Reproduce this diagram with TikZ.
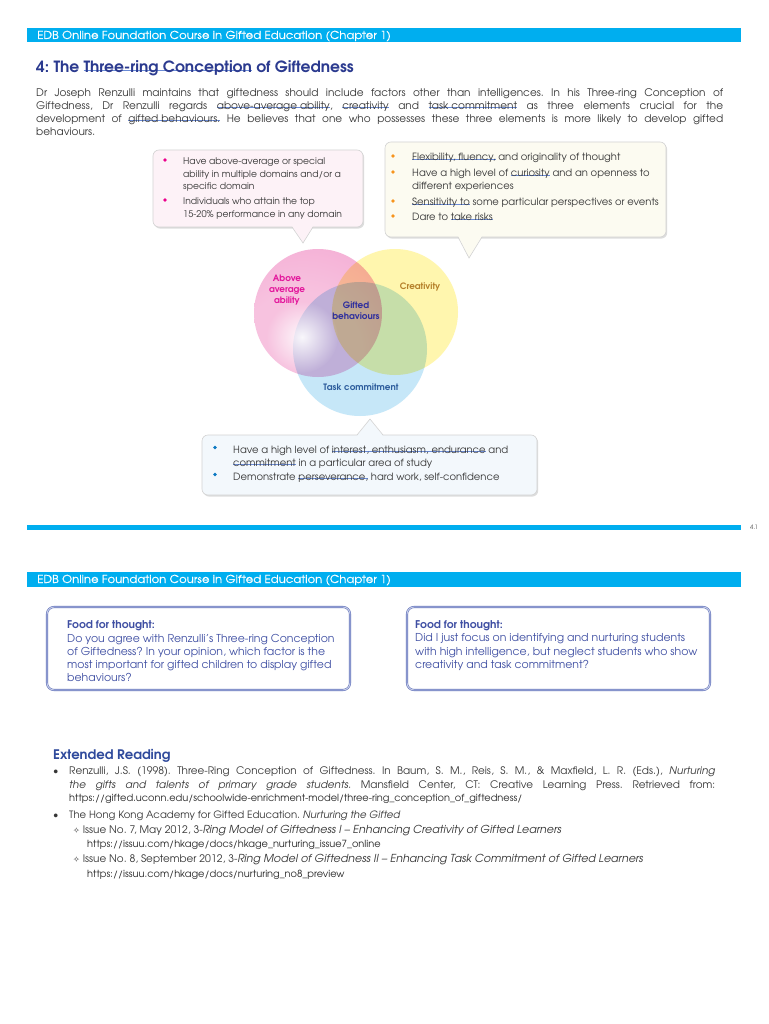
\documentclass[tikz,border=0pt]{standalone}
\usepackage{fontspec}
\setmainfont{texgyreadventor}[Extension=.otf, UprightFont=*-regular, BoldFont=*-bold, ItalicFont=*-italic, BoldItalicFont=*-bolditalic]
\newfontfamily\hdrfont{texgyreadventor}[Extension=.otf, UprightFont=*-regular, BoldFont=*-bold, ItalicFont=*-italic, FakeStretch=1.06, FakeBold=0.4]
\newfontfamily\symfont{DejaVu Sans}
\usetikzlibrary{shadows,fadings}
\tikzfading[name=glowfade, inner color=transparent!0, outer color=transparent!100]
\frenchspacing
\definecolor{hdrblue}{HTML}{00AEEF}
\definecolor{titleblue}{HTML}{2B3A8F}
\definecolor{bodygray}{HTML}{363636}
\definecolor{pinkfill}{HTML}{FDF2F7}
\definecolor{creamfill}{HTML}{FCFBF1}
\definecolor{bluefill}{HTML}{F3F8FC}
\definecolor{boxedge}{HTML}{D3D3D3}
\definecolor{pinkbullet}{HTML}{EC008C}
\definecolor{orangebullet}{HTML}{F7941D}
\definecolor{bluebullet}{HTML}{0A78C2}
\definecolor{foodedge}{HTML}{6475BD}
\definecolor{foodtext}{HTML}{3F4FA3}
\definecolor{readblue}{HTML}{2F4A9C}
\definecolor{pinkedge}{HTML}{F39FCD}
\definecolor{pinkmid}{HTML}{F7C2DF}
\definecolor{vyellow}{HTML}{FFF6AE}
\definecolor{vblue}{HTML}{C6E7F8}
\definecolor{abovecol}{HTML}{E3159B}
\definecolor{creacol}{HTML}{B5802A}
\definecolor{giftcol}{HTML}{2E2E9E}
\definecolor{taskcol}{HTML}{2C5C9C}
\definecolor{annot}{HTML}{6A8BD6}
\newsavebox\annbox
\newcommand\ann[1]{\sbox\annbox{#1}\rlap{\textcolor{annot}{\rule[1.1pt]{\wd\annbox}{1.1pt}}}\usebox\annbox}
\newcommand\itx[1]{{\fontsize{11}{12}\selectfont\itshape #1}}
\pgfdeclareradialshading{pinkball}{\pgfpoint{-9bp}{-21bp}}{color(0bp)=(pinkmid); color(24bp)=(pinkmid); color(58bp)=(pinkedge); color(100bp)=(pinkedge)}
\tikzset{
  hdrtxt/.style={anchor=base west, inner sep=0, text=white, font=\hdrfont\fontsize{11}{12}\selectfont},
  titletxt/.style={anchor=base west, inner sep=0, text=titleblue, font=\bfseries\fontsize{15.5}{17}\selectfont},
  bodytxt/.style={anchor=base west, inner sep=0, text=bodygray, font=\fontsize{10.5}{12}\selectfont},
  calltxt/.style={anchor=base west, inner sep=0, text=bodygray, font=\fontsize{9.2}{10}\selectfont},
  calltxtb/.style={anchor=base west, inner sep=0, text=bodygray, font=\fontsize{10}{11}\selectfont},
  calltxtc/.style={anchor=base west, inner sep=0, text=bodygray, font=\fontsize{10}{11}\selectfont},
  callbox/.style={rounded corners=6pt, draw=boxedge, line width=0.6pt, inner sep=0,
     drop shadow={shadow xshift=1.2pt, shadow yshift=-1.6pt, opacity=0.22, fill=black!60}},
  calledge/.style={draw=boxedge, line width=0.6pt},
  venntxt/.style={anchor=base, inner sep=0, font=\bfseries\fontsize{8.8}{10}\selectfont, align=center},
  foodbox/.style={rounded corners=7pt, draw=foodedge, line width=0.6pt, double=foodedge!35, double distance=0.9pt, inner sep=0},
  foodtxt/.style={anchor=base west, inner sep=0, text=foodtext, font=\fontsize{10.9}{12}\selectfont},
  readhead/.style={anchor=base west, inner sep=0, text=readblue, font=\bfseries\fontsize{13.2}{14}\selectfont},
  readtxt/.style={anchor=base west, inner sep=0, text=bodygray, font=\fontsize{10.4}{12}\selectfont},
  urltxt/.style={anchor=base west, inner sep=0, text=black!85, font=\fontsize{9.8}{11}\selectfont},
  dot/.style={circle, inner sep=0, minimum size=3.6pt},
}
\begin{document}
\begin{tikzpicture}[x=1pt,y=-1pt]
\useasboundingbox[fill=white] (0,0) rectangle (768,1024);

% ---------- page 1 ----------
\fill[hdrblue] (27,28) rectangle (741,42.5);
\node[hdrtxt] (hdr1) at (37,39) {EDB Online Foundation Course in Gifted Education (Chapter 1)};
\node[titletxt] (title) at (36,72.5) {4: The \ann{Three-ring Conception} of Giftedness};

\node[bodytxt] (p1) at (36,96.5) {\makebox[687pt][s]{Dr Joseph Renzulli maintains that giftedness should include factors other than intelligences. In his Three-ring Conception of}};
\node[bodytxt] (p2) at (36,109.5) {\makebox[687pt][s]{Giftedness, Dr Renzulli regards \ann{above-average ability}, \ann{creativity} and \ann{task commitment} as three elements crucial for the}};
\node[bodytxt] (p3) at (36,122.5) {\makebox[687pt][s]{development of \ann{gifted behaviours.} He believes that one who possesses these three elements is more likely to develop gifted}};
\node[bodytxt] (p4) at (36,135.5) {behaviours.};

% pink callout
\node[callbox, fill=pinkfill, minimum width=210pt, minimum height=77pt] (pinkbox) at (258,188.5) {};
\coordinate (pinkL) at (292,227);
\coordinate (pinkR) at (313,227);
\coordinate (pinkTip) at (303,243);
\fill[pinkfill] ([yshift=1pt]pinkL) -- (pinkTip) -- ([yshift=1pt]pinkR) -- cycle;
\draw[calledge] (pinkL) -- (pinkTip) -- (pinkR);
\node[dot, fill=pinkbullet] (pb1) at (165,160) {};
\node[dot, fill=pinkbullet] (pb2) at (165,200) {};
\node[calltxt] (pt1) at (183,165) {Have above-average or special};
\node[calltxt] (pt2) at (183,177.5) {ability in multiple domains and/or a};
\node[calltxt] (pt3) at (183,190) {specific domain};
\node[calltxt] (pt4) at (183,205) {Individuals who attain the top};
\node[calltxt] (pt5) at (183,218) {15-20\% performance in any domain};

% cream callout
\node[callbox, fill=creamfill, minimum width=281pt, minimum height=95pt] (creambox) at (525.5,189.5) {};
\coordinate (creamL) at (458,237);
\coordinate (creamR) at (482,237);
\coordinate (creamTip) at (469,258);
\fill[creamfill] ([yshift=1pt]creamL) -- (creamTip) -- ([yshift=1pt]creamR) -- cycle;
\draw[calledge] (creamL) -- (creamTip) -- (creamR);
\node[dot, fill=orangebullet] (cb1) at (393,156) {};
\node[dot, fill=orangebullet] (cb2) at (393,172) {};
\node[dot, fill=orangebullet] (cb3) at (393,201) {};
\node[dot, fill=orangebullet] (cb4) at (393,216) {};
\node[calltxtb] (ct1) at (412,161) {\ann{Flexibility, fluency,} and originality of thought};
\node[calltxtb] (ct2) at (412,177) {Have a high level of \ann{curiosity} and an openness to};
\node[calltxtb] (ct3) at (412,190) {different experiences};
\node[calltxtb] (ct4) at (412,206) {\ann{Sensitivity to} some particular perspectives or events};
\node[calltxtb] (ct5) at (412,221) {Dare to \ann{take risks}};

% Venn diagram
\shade[shading=pinkball] (318,313) circle[radius=64];
\fill[vyellow, blend mode=multiply] (395,312) circle[radius=63];
\fill[vblue, blend mode=multiply] (360,349) circle[radius=67];
\begin{scope}
  \clip (318,313) circle[radius=64];
  \fill[white, path fading=glowfade, opacity=0.9] (302,337) circle[radius=36];
\end{scope}
\node[venntxt, text=abovecol] (lab1) at (287,281) {Above};
\node[venntxt, text=abovecol] (lab1b) at (287,292) {average};
\node[venntxt, text=abovecol] (lab1c) at (287,303) {ability};
\node[venntxt, text=creacol] (lab2) at (420,289) {Creativity};
\node[venntxt, text=giftcol] (lab3) at (356,308) {Gifted};
\node[venntxt, text=giftcol] (lab3b) at (356,319.5) {behaviours};
\node[venntxt, text=taskcol] (lab4) at (361,390) {Task commitment};

% blue callout
\node[callbox, fill=bluefill, minimum width=335pt, minimum height=60pt] (bluebox) at (369.5,465) {};
\coordinate (blueL) at (357,435);
\coordinate (blueR) at (383,435);
\coordinate (blueTip) at (370,419);
\fill[bluefill] ([yshift=-1pt]blueL) -- (blueTip) -- ([yshift=-1pt]blueR) -- cycle;
\draw[calledge] (blueL) -- (blueTip) -- (blueR);
\node[dot, fill=bluebullet] (bb1) at (215,447.5) {};
\node[dot, fill=bluebullet] (bb2) at (215,474.5) {};
\node[calltxtc] (bt1) at (233,453.5) {Have a high level of \ann{interest, enthusiasm, endurance} and};
\node[calltxtc] (bt2) at (233,466) {\ann{commitment} in a particular area of study};
\node[calltxtc] (bt3) at (233,480.5) {Demonstrate \ann{perseverance,} hard work, self-confidence};

% footer of page 1
\fill[hdrblue] (27,524.5) rectangle (741,529.5);
\node[anchor=base west, inner sep=0, text=black!70, font=\fontsize{6}{7}\selectfont] (pnum) at (750,529.5) {4.1};

% ---------- page 2 ----------
\fill[hdrblue] (27,572) rectangle (741,586.5);
\node[hdrtxt] (hdr2) at (37,583) {EDB Online Foundation Course in Gifted Education (Chapter 1)};

\node[foodbox, minimum width=303pt, minimum height=83pt] (food1) at (198.5,648.5) {};
\node[foodtxt, font=\bfseries\fontsize{10.7}{12}\selectfont] (f1h) at (67,628.5) {Food for thought:};
\node[foodtxt] (f1a) at (67,642.5) {Do you agree with Renzulli's Three-ring Conception};
\node[foodtxt] (f1b) at (67,655.5) {of Giftedness? In your opinion, which factor is the};
\node[foodtxt] (f1c) at (67,668.5) {most important for gifted children to display gifted};
\node[foodtxt] (f1d) at (67,681.5) {behaviours?};

\node[foodbox, minimum width=303pt, minimum height=83pt] (food2) at (558.5,648.5) {};
\node[foodtxt, font=\bfseries\fontsize{10.7}{12}\selectfont] (f2h) at (415,628.5) {Food for thought:};
\node[foodtxt] (f2a) at (415,641.5) {Did I just focus on identifying and nurturing students};
\node[foodtxt] (f2b) at (415,655) {with high intelligence, but neglect students who show};
\node[foodtxt] (f2c) at (415,668) {creativity and task commitment?};

\node[readhead] (rh) at (53,759.5) {Extended Reading};
\node[readtxt] (rb1) at (53,774.5) {\textbullet};
\node[readtxt] (r1) at (69,774.5) {\makebox[646pt][s]{Renzulli, J.S. (1998). Three-Ring Conception of Giftedness. In Baum, S. M., Reis, S. M., \& Maxfield, L. R. (Eds.), \textit{Nurturing}}};
\node[readtxt] (r2) at (69,788) {\makebox[646pt][s]{\textit{the gifts and talents of primary grade students}. Mansfield Center, CT: Creative Learning Press. Retrieved from:}};
\node[urltxt] (r3) at (69,801.5) {https://gifted.uconn.edu/schoolwide-enrichment-model/three-ring\_conception\_of\_giftedness/};
\node[readtxt] (rb2) at (53,818.5) {\textbullet};
\node[readtxt, font=\fontsize{10.1}{12}\selectfont] (r4) at (69,818.5) {The Hong Kong Academy for Gifted Education. \textit{Nurturing the Gifted}};
\node[readtxt] (r5) at (73,833) {{\symfont\fontsize{8}{9}\selectfont ✧} Issue No. 7, May 2012, 3-\itx{Ring Model of Giftedness I – Enhancing Creativity of Gifted Learners}};
\node[urltxt] (r6) at (87,847.5) {https://issuu.com/hkage/docs/hkage\_nurturing\_issue7\_online};
\node[readtxt] (r7) at (73,862) {{\symfont\fontsize{8}{9}\selectfont ✧} Issue No. 8, September 2012, 3-\itx{Ring Model of Giftedness II – Enhancing Task Commitment of Gifted Learners}};
\node[urltxt] (r8) at (87,877) {https://issuu.com/hkage/docs/nurturing\_no8\_preview};
\end{tikzpicture}
\end{document}
